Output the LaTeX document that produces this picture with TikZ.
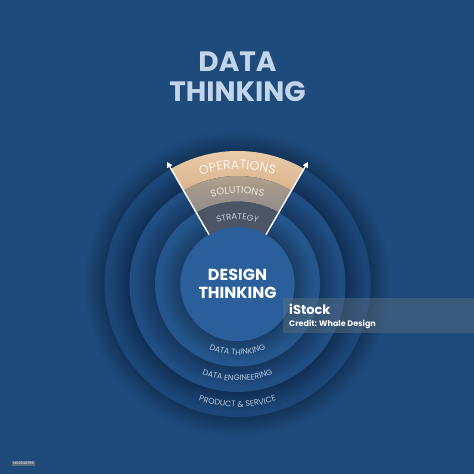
\documentclass[tikz,border=0pt]{standalone}
\usepackage{fontspec}
\setmainfont{Poppins}
\usetikzlibrary{arrows.meta,decorations.text}
\definecolor{bg}{HTML}{1E4B7C}
\definecolor{ringc}{HTML}{1C4677}
\definecolor{ringb}{HTML}{204D82}
\definecolor{ringa}{HTML}{24568D}
\definecolor{core}{HTML}{2A5F9B}
\definecolor{titlec}{HTML}{C3D5EA}
\definecolor{opstop}{HTML}{EDCFAD}
\definecolor{opsbot}{HTML}{D9B48E}
\definecolor{soltop}{HTML}{B5A28C}
\definecolor{solbot}{HTML}{8F8B8A}
\definecolor{strat}{HTML}{4B5564}
\definecolor{lbl}{HTML}{B3C6DD}
\definecolor{opstxt}{HTML}{FAF1E6}
\definecolor{soltxt}{HTML}{ECE4DA}
\definecolor{strtxt}{HTML}{C6CDD7}
\begin{document}
\begin{tikzpicture}[x=1pt,y=1pt,
  halo/.style={black,opacity=0.022},
  arrowline/.style={white,line width=1.4pt,-{Triangle[width=5.5pt,length=5.5pt]}},
  arctext/.style={decorate,decoration={text along path,text align=center,text color=#1}}]
  \fill[bg] (0,0) rectangle (474,474);
  \useasboundingbox (0,0) rectangle (474,474);
  \node[font=\bfseries\fontsize{28}{29.5}\selectfont,text=titlec,align=center] (title) at (237.5,397.5) {DATA\\THINKING};
  \begin{scope}[shift={(237.5,190)}]
    \coordinate (C) at (0,0);
    \foreach \r/\c in {133/ringc,108/ringb,82.5/ringa,57/core}{
      \foreach \i in {1,...,11}
        \fill[halo] (C) circle[radius=\r pt+\i*1.8pt];
      \fill[\c] (C) circle[radius=\r pt];
    }
    \shade[top color=opstop,bottom color=opsbot] (60:108pt) arc[start angle=60,end angle=120,radius=108pt] -- (120:133pt) arc[start angle=120,end angle=60,radius=133pt] -- cycle;
    \shade[top color=soltop,bottom color=solbot] (60:82.5pt) arc[start angle=60,end angle=120,radius=82.5pt] -- (120:108pt) arc[start angle=120,end angle=60,radius=108pt] -- cycle;
    \fill[strat] (60:57pt) arc[start angle=60,end angle=120,radius=57pt] -- (120:82.5pt) arc[start angle=120,end angle=60,radius=82.5pt] -- cycle;
    \node[circle,fill=core,minimum size=114pt,inner sep=0pt,text=white,align=center,font=\bfseries\fontsize{16}{17.5}\selectfont] (dt) at (C) {DESIGN\\THINKING};
    \path[arctext=opstxt,decoration={text={|\fontsize{12.5}{14}\selectfont|OPERATIONS}}] (120:115pt) arc[start angle=120,end angle=60,radius=115pt];
    \path[arctext=soltxt,decoration={text={|\fontsize{9.8}{11}\selectfont|SOLUTIONS}}] (120:90.5pt) arc[start angle=120,end angle=60,radius=90.5pt];
    \path[arctext=strtxt,decoration={text={|\fontsize{8.5}{10}\selectfont|STRATEGY}}] (120:64.5pt) arc[start angle=120,end angle=60,radius=64.5pt];
    \path[arctext=lbl,decoration={text={|\fontsize{7.9}{9}\selectfont|DATA THINKING}}] (240:71pt) arc[start angle=240,end angle=300,radius=71pt];
    \path[arctext=lbl,decoration={text={|\fontsize{7.9}{9}\selectfont|DATA ENGINEERING}}] (240:97pt) arc[start angle=240,end angle=300,radius=97pt];
    \path[arctext=lbl,decoration={text={|\fontsize{8}{9}\selectfont|PRODUCT {\&} SERVICE}}] (240:123pt) arc[start angle=240,end angle=300,radius=123pt];
    \coordinate (l0) at (120:57pt);
    \coordinate (l1) at (120:141pt);
    \coordinate (r0) at (60:57pt);
    \coordinate (r1) at (60:141pt);
    \draw[arrowline] (l0) -- (l1);
    \draw[arrowline] (r0) -- (r1);
  \end{scope}
  \fill[gray!60!bg,opacity=0.5] (283,141) rectangle (474,176);
  \node[anchor=west,text=white,font=\bfseries\fontsize{13}{14}\selectfont,inner sep=0pt] (stock) at (289,164.5) {iStock};
  \node[anchor=west,text=white,font=\bfseries\fontsize{8}{9}\selectfont,inner sep=0pt] (credit) at (289,150) {Credit: Whale Design};
  \node[fill=gray!60!bg,text=white,font=\fontsize{3.5}{4}\selectfont,inner sep=1.5pt] (id) at (23.5,10.5) {1402640596};
\end{tikzpicture}
\end{document}
